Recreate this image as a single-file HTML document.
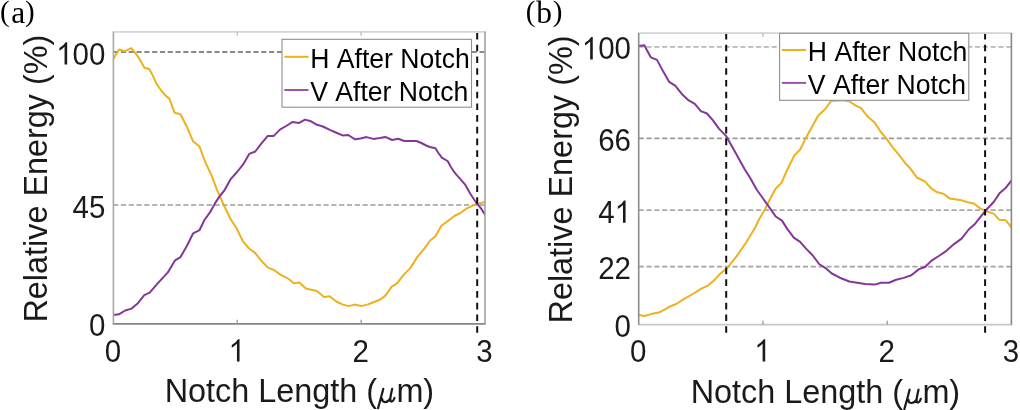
<!DOCTYPE html>
<html><head><meta charset="utf-8"><style>
html,body{margin:0;padding:0;background:#fff;}
svg{display:block;will-change:transform;}
.tk{font-family:"Liberation Sans",sans-serif;font-size:29.5px;fill:#1a1a1a;}
.lb{font-family:"Liberation Sans",sans-serif;font-size:32.4px;fill:#1a1a1a;}
.lg{font-family:"Liberation Sans",sans-serif;font-size:26.6px;fill:#000;font-kerning:none;}
.pn{font-family:"Liberation Serif",serif;fill:#000;}
.mu{font-family:"Liberation Serif",serif;font-style:italic;}
</style></head><body>
<svg width="1020" height="410" viewBox="0 0 1020 410">
<defs>
<clipPath id="ca"><rect x="113.4" y="31.8" width="371.6" height="292.0"/></clipPath>
<clipPath id="cb"><rect x="638.7" y="33.1" width="372.7" height="291.6"/></clipPath>
</defs>
<rect width="1020" height="410" fill="#fff"/>
<line x1="113.4" y1="52.0" x2="485.0" y2="52.0" stroke="#8a8a8a" stroke-width="1.8" stroke-dasharray="5.1 2.695" stroke-dashoffset="0.25"/>
<line x1="113.4" y1="205.0" x2="485.0" y2="205.0" stroke="#b4b4b4" stroke-width="1.8" stroke-dasharray="5.1 2.695" stroke-dashoffset="0.25"/>
<g clip-path="url(#ca)">
<polyline points="112.9,59.8 115.9,54.6 119.1,49.5 124.6,51.3 131.2,48.1 134.9,52.4 138.6,57.6 144.4,67.8 149.2,69.0 152.5,75.1 156.6,83.9 161.2,90.5 165.6,95.6 169.3,98.6 174.6,112.7 180.5,114.2 187.1,127.3 193.0,141.2 199.5,146.6 205.2,162.0 211.8,175.9 217.0,189.8 221.3,199.3 223.6,204.8 230.7,219.3 236.3,227.8 242.9,241.2 249.0,248.5 255.1,252.9 261.2,260.7 268.0,267.6 273.9,270.0 280.7,274.9 286.8,277.8 290.0,280.0 293.7,283.2 299.3,282.4 305.9,288.5 316.8,291.0 324.1,297.1 329.5,296.3 336.3,301.5 342.4,304.4 348.5,306.1 354.6,304.6 361.2,306.1 368.0,304.4 374.1,302.0 380.2,299.5 385.1,295.9 391.7,286.7 397.1,283.4 403.8,274.6 410.5,267.9 417.2,257.1 423.9,249.1 430.1,240.5 435.5,236.2 441.4,225.7 448.1,220.9 454.3,216.0 460.7,212.8 466.9,208.3 473.6,205.3 479.0,203.4 484.9,202.1" fill="none" stroke="#EDB120" stroke-width="2.0" stroke-linejoin="round" stroke-linecap="round"/>
<polyline points="113.2,314.9 118.9,314.3 125.2,310.5 131.6,308.6 137.9,303.2 144.3,295.2 149.7,292.7 157.0,284.1 167.8,272.4 175.1,260.3 180.5,257.1 186.8,246.0 193.2,233.3 199.5,230.2 204.4,220.0 210.0,212.4 214.9,203.4 219.8,196.1 224.3,190.5 230.9,178.8 237.5,171.5 243.3,164.2 249.2,153.9 255.3,151.5 261.7,143.2 267.8,135.9 273.8,135.9 280.2,129.4 286.2,126.0 292.7,121.9 298.7,123.1 305.0,119.6 311.0,121.3 317.0,124.8 322.9,126.5 329.8,129.9 335.8,132.5 342.6,135.4 348.2,135.0 355.1,139.3 360.5,138.4 366.5,137.1 373.3,138.9 379.9,138.1 385.3,136.9 392.1,140.0 398.2,138.8 404.3,141.0 416.5,141.0 421.3,143.0 426.2,145.5 429.9,147.0 435.4,148.2 438.4,153.0 442.1,157.9 447.6,161.0 450.6,166.5 453.7,171.3 456.1,174.4 459.5,178.1 465.4,184.9 470.3,193.7 476.1,202.5 481.0,208.4 485.5,215.5" fill="none" stroke="#843797" stroke-width="2.0" stroke-linejoin="round" stroke-linecap="round"/>
</g>
<line x1="477.2" y1="33.0" x2="477.2" y2="333.3" stroke="#111" stroke-width="2" stroke-dasharray="6.6 5.13"/>
<line x1="112.7" y1="31.8" x2="485.7" y2="31.8" stroke="#d4d4d4" stroke-width="1.7"/>
<line x1="112.7" y1="323.8" x2="485.7" y2="323.8" stroke="#858585" stroke-width="1.7"/>
<line x1="113.4" y1="31.8" x2="113.4" y2="323.8" stroke="#a8a8a8" stroke-width="1.6"/>
<line x1="485.0" y1="31.8" x2="485.0" y2="323.8" stroke="#a2a2a2" stroke-width="1.6"/>
<line x1="237.26666666666668" y1="323.8" x2="237.26666666666668" y2="319.8" stroke="#a0a0a0" stroke-width="1.4"/>
<line x1="237.26666666666668" y1="31.8" x2="237.26666666666668" y2="35.8" stroke="#c0c0c0" stroke-width="1.4"/>
<line x1="361.1333333333333" y1="323.8" x2="361.1333333333333" y2="319.8" stroke="#a0a0a0" stroke-width="1.4"/>
<line x1="361.1333333333333" y1="31.8" x2="361.1333333333333" y2="35.8" stroke="#c0c0c0" stroke-width="1.4"/>
<text transform="translate(104.70,361.60) scale(1,1.08)" class="tk">0</text>
<path d="M 239.54 361.60 L 236.94 361.60 L 236.94 343.73 Q 234.61 346.12 231.78 347.68 L 231.78 345.03 Q 236.09 342.80 237.95 339.23 L 239.54 339.23 Z" fill="#1a1a1a"/>
<text transform="translate(352.43,361.60) scale(1,1.08)" class="tk">2</text>
<text transform="translate(476.30,361.60) scale(1,1.08)" class="tk">3</text>
<path d="M 67.17 64.60 L 64.57 64.60 L 64.57 46.73 Q 62.24 49.12 59.41 50.68 L 59.41 48.03 Q 63.72 45.80 65.58 42.23 L 67.17 42.23 Z" fill="#1a1a1a"/>
<text transform="translate(72.60,64.60) scale(1,1.08)" class="tk">0</text>
<text transform="translate(89.00,64.60) scale(1,1.08)" class="tk">0</text>
<text transform="translate(72.60,217.60) scale(1,1.08)" class="tk">4</text>
<text transform="translate(89.00,217.60) scale(1,1.08)" class="tk">5</text>
<text transform="translate(89.00,336.40) scale(1,1.08)" class="tk">0</text>
<rect x="282.0" y="39.3" width="189.5" height="67.9" fill="#fff" stroke="#8f8f8f" stroke-width="1.1"/>
<line x1="284.3" y1="56.8" x2="308.5" y2="56.8" stroke="#EDB120" stroke-width="2"/>
<line x1="284.3" y1="90.0" x2="308.5" y2="90.0" stroke="#9b51ad" stroke-width="2"/>
<text transform="translate(310.2,67.7) scale(1,1.065)" class="lg">H After Notch</text>
<text transform="translate(310.2,100.8) scale(1,1.065)" class="lg">V After Notch</text>
<text x="0.12" y="21.33" class="pn" font-size="29.0">(</text>
<text x="11.20" y="22.50" class="pn" font-size="31.5">a</text>
<text x="25.07" y="21.33" class="pn" font-size="29.0">)</text>
<text transform="translate(46.9,178.60000000000002) rotate(-90)" text-anchor="middle" class="lb">Relative Energy (%)</text>
<text x="164.7" y="401.8" class="lb">Notch Length (</text>
<path d="M 383.30,388.80 C 381.80,395.00 379.40,403.30 378.10,408.10 M 382.10,398.80 C 382.20,403.00 387.40,403.40 390.10,398.60 M 392.20,388.80 C 391.40,392.30 390.20,397.20 390.30,399.60 C 390.50,402.80 393.20,402.10 394.50,398.00" fill="none" stroke="#1a1a1a" stroke-width="2.2" stroke-linecap="round" stroke-linejoin="round"/>
<text x="396.4" y="401.8" class="lb">m)</text>
<line x1="638.7" y1="46.8" x2="1011.4" y2="46.8" stroke="#b8b8b8" stroke-width="1.8" stroke-dasharray="5.1 2.72" stroke-dashoffset="0.0"/>
<line x1="638.7" y1="138.3" x2="1011.4" y2="138.3" stroke="#999999" stroke-width="1.8" stroke-dasharray="5.1 2.72" stroke-dashoffset="0.0"/>
<line x1="638.7" y1="210.2" x2="1011.4" y2="210.2" stroke="#aaaaaa" stroke-width="1.8" stroke-dasharray="5.1 2.72" stroke-dashoffset="0.0"/>
<line x1="638.7" y1="266.7" x2="1011.4" y2="266.7" stroke="#a2a2a2" stroke-width="1.8" stroke-dasharray="5.1 2.72" stroke-dashoffset="0.0"/>
<g clip-path="url(#cb)">
<polyline points="638.8,315.1 644.5,316.0 650.9,314.1 658.8,312.6 665.1,309.4 670.5,306.2 676.2,304.0 684.1,298.9 693.7,293.5 700.9,288.8 707.9,285.6 714.3,280.2 720.0,273.9 727.0,268.2 736.5,256.4 746.0,242.8 755.5,227.0 759.0,219.5 765.1,209.0 770.0,199.3 775.6,188.8 781.5,182.9 787.1,170.0 794.4,155.4 800.0,149.8 806.1,137.6 812.2,126.6 818.3,115.6 824.8,109.5 831.0,101.1 834.6,100.7 841.2,100.4 844.2,100.4 849.3,101.3 854.4,104.8 861.0,108.1 864.7,112.8 868.3,117.3 874.4,122.2 880.5,131.5 886.6,138.8 892.7,147.3 898.8,154.6 904.9,162.7 911.0,169.3 917.1,177.8 919.0,178.5 925.1,181.6 931.2,188.3 937.3,192.3 943.4,193.8 949.5,198.4 960.1,199.9 967.7,202.3 973.8,203.5 979.9,208.1 986.0,211.2 993.7,213.6 999.1,219.7 1005.9,220.3 1011.3,227.3" fill="none" stroke="#EDB120" stroke-width="2.0" stroke-linejoin="round" stroke-linecap="round"/>
<polyline points="638.7,46.0 644.3,45.2 650.9,57.4 657.0,59.9 663.0,71.1 669.1,81.8 675.2,85.7 682.6,94.8 688.7,100.4 694.8,103.8 700.9,111.1 707.0,113.5 713.0,120.4 719.1,128.9 726.1,135.9 732.2,146.8 738.3,157.8 744.4,168.8 750.5,178.5 756.6,189.5 762.7,198.0 768.8,206.6 775.7,216.5 782.0,220.6 787.4,229.1 793.8,237.7 800.1,241.8 806.5,249.1 812.8,255.5 819.1,264.0 825.5,268.1 831.8,273.5 839.8,277.7 849.3,281.5 857.2,282.7 865.1,284.0 874.6,284.6 881.0,282.7 888.9,282.7 896.1,279.8 903.7,277.9 911.3,275.2 919.0,269.1 925.1,267.0 931.2,260.9 938.8,256.0 946.4,250.8 954.0,244.1 961.6,238.6 968.7,229.5 975.4,223.4 981.5,215.7 987.0,209.0 993.7,202.0 999.8,192.9 1005.9,187.7 1011.3,180.7" fill="none" stroke="#843797" stroke-width="2.0" stroke-linejoin="round" stroke-linecap="round"/>
</g>
<line x1="726.2" y1="33.0" x2="726.2" y2="333.3" stroke="#111" stroke-width="2" stroke-dasharray="6.6 5.13"/>
<line x1="985.1" y1="33.0" x2="985.1" y2="333.3" stroke="#111" stroke-width="2" stroke-dasharray="6.6 5.13"/>
<line x1="638.0" y1="33.1" x2="1012.1" y2="33.1" stroke="#d4d4d4" stroke-width="1.7"/>
<line x1="638.0" y1="324.7" x2="1012.1" y2="324.7" stroke="#c8c8c8" stroke-width="1.7"/>
<line x1="638.7" y1="33.1" x2="638.7" y2="324.7" stroke="#8e8e8e" stroke-width="1.6"/>
<line x1="1011.4" y1="33.1" x2="1011.4" y2="324.7" stroke="#888888" stroke-width="1.6"/>
<line x1="762.9333333333334" y1="324.7" x2="762.9333333333334" y2="320.7" stroke="#a0a0a0" stroke-width="1.4"/>
<line x1="762.9333333333334" y1="33.1" x2="762.9333333333334" y2="37.1" stroke="#c0c0c0" stroke-width="1.4"/>
<line x1="887.1666666666666" y1="324.7" x2="887.1666666666666" y2="320.7" stroke="#a0a0a0" stroke-width="1.4"/>
<line x1="887.1666666666666" y1="33.1" x2="887.1666666666666" y2="37.1" stroke="#c0c0c0" stroke-width="1.4"/>
<text transform="translate(630.00,361.60) scale(1,1.08)" class="tk">0</text>
<path d="M 765.21 361.60 L 762.61 361.60 L 762.61 343.73 Q 760.28 346.12 757.45 347.68 L 757.45 345.03 Q 761.75 342.80 763.61 339.23 L 765.21 339.23 Z" fill="#1a1a1a"/>
<text transform="translate(878.47,361.60) scale(1,1.08)" class="tk">2</text>
<text transform="translate(1002.70,361.60) scale(1,1.08)" class="tk">3</text>
<path d="M 592.77 59.40 L 590.17 59.40 L 590.17 41.53 Q 587.84 43.92 585.01 45.48 L 585.01 42.83 Q 589.32 40.60 591.17 37.03 L 592.77 37.03 Z" fill="#1a1a1a"/>
<text transform="translate(598.20,59.40) scale(1,1.08)" class="tk">0</text>
<text transform="translate(614.60,59.40) scale(1,1.08)" class="tk">0</text>
<text transform="translate(598.20,150.80) scale(1,1.08)" class="tk">6</text>
<text transform="translate(614.60,150.80) scale(1,1.08)" class="tk">6</text>
<text transform="translate(598.20,222.80) scale(1,1.08)" class="tk">4</text>
<path d="M 625.57 222.80 L 622.98 222.80 L 622.98 204.93 Q 620.65 207.32 617.81 208.88 L 617.81 206.23 Q 622.12 204.00 623.98 200.43 L 625.57 200.43 Z" fill="#1a1a1a"/>
<text transform="translate(598.20,279.30) scale(1,1.08)" class="tk">2</text>
<text transform="translate(614.60,279.30) scale(1,1.08)" class="tk">2</text>
<text transform="translate(614.60,337.30) scale(1,1.08)" class="tk">0</text>
<rect x="779.6" y="33.3" width="189.19999999999993" height="67.0" fill="#fff" stroke="#8f8f8f" stroke-width="1.1"/>
<line x1="781.9" y1="50.0" x2="806.1" y2="50.0" stroke="#EDB120" stroke-width="2"/>
<line x1="781.9" y1="82.9" x2="806.1" y2="82.9" stroke="#9b51ad" stroke-width="2"/>
<text transform="translate(807.8,61.0) scale(1,1.065)" class="lg">H After Notch</text>
<text transform="translate(807.8,93.9) scale(1,1.065)" class="lg">V After Notch</text>
<text x="525.82" y="21.13" class="pn" font-size="29.0">(</text>
<text x="536.20" y="22.70" class="pn" font-size="31.5">b</text>
<text x="552.87" y="21.13" class="pn" font-size="29.0">)</text>
<text transform="translate(572.0,179.5) rotate(-90)" text-anchor="middle" class="lb">Relative Energy (%)</text>
<text x="690.7" y="402.7" class="lb">Notch Length (</text>
<path d="M 909.60,389.70 C 908.10,395.90 905.70,404.20 904.40,409.00 M 908.40,399.70 C 908.50,403.90 913.70,404.30 916.40,399.50 M 918.50,389.70 C 917.70,393.20 916.50,398.10 916.60,400.50 C 916.80,403.70 919.50,403.00 920.80,398.90" fill="none" stroke="#1a1a1a" stroke-width="2.2" stroke-linecap="round" stroke-linejoin="round"/>
<text x="922.4" y="402.7" class="lb">m)</text>
</svg>
</body></html>
